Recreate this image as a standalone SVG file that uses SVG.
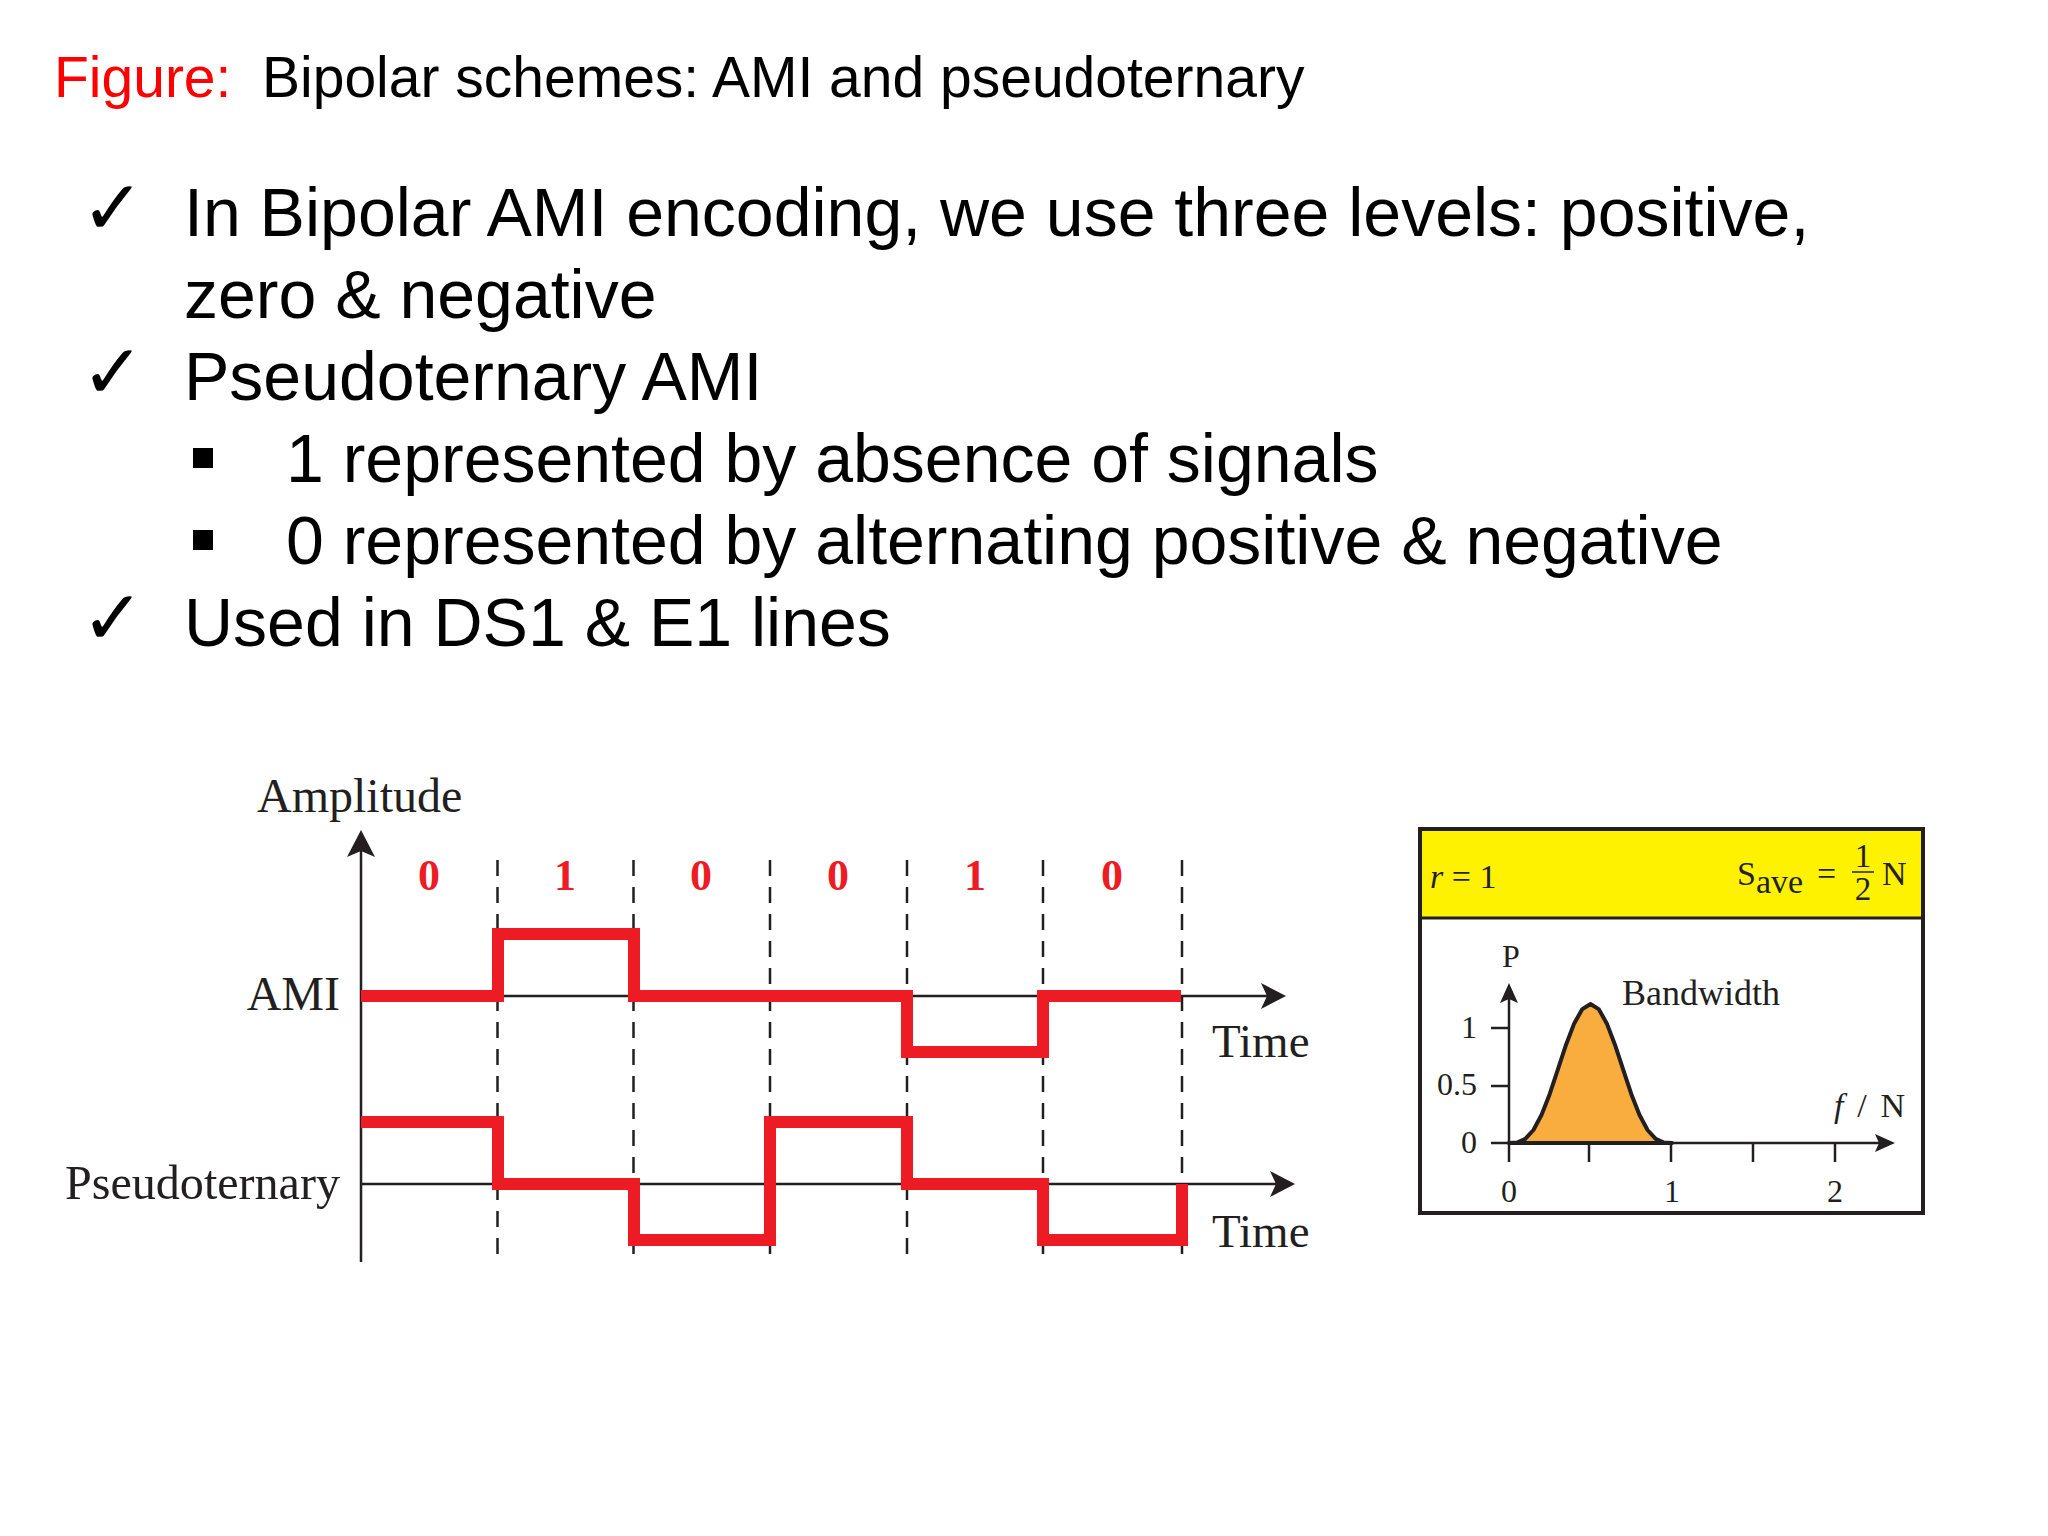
<svg xmlns="http://www.w3.org/2000/svg" width="2048" height="1536" viewBox="0 0 2048 1536">
<style>
.sans{font-family:"Liberation Sans",Arial,sans-serif;fill:#000}
.serif{font-family:"Liberation Serif","Times New Roman",serif;fill:#231F20}
.chk{font-family:"DejaVu Sans",sans-serif;font-size:76px;font-weight:bold;fill:#000}
.bit{font-family:"Liberation Serif","Times New Roman",serif;font-weight:bold;font-size:44px;fill:#ED1C24;text-anchor:middle}
.axis{stroke:#231F20;stroke-width:2.5;fill:none}
.dash{stroke:#231F20;stroke-width:2.5;stroke-dasharray:16 11;fill:none}
.wave{stroke:#ED1C24;stroke-width:12;fill:none;stroke-linejoin:miter;stroke-linecap:butt}
.head{fill:#231F20}
</style>
<rect width="2048" height="1536" fill="#FFFFFF"/>

<g id="title">
<text x="54" y="97" class="sans" font-size="57" style="fill:#FF0000">Figure:</text>
<text x="262" y="97" class="sans" font-size="57">Bipolar schemes: AMI and pseudoternary</text>
</g>

<g id="bullets">
<text x="81" y="234" class="chk">✓</text>
<text x="184" y="236" class="sans" font-size="68">In Bipolar AMI encoding, we use three levels: positive,</text>
<text x="184" y="318" class="sans" font-size="68">zero &amp; negative</text>
<text x="81" y="398" class="chk">✓</text>
<text x="184" y="400" class="sans" font-size="68">Pseudoternary AMI</text>
<rect x="193" y="448" width="20" height="20" fill="#000"/>
<text x="286" y="482" class="sans" font-size="68">1 represented by absence of signals</text>
<rect x="193" y="530" width="20" height="20" fill="#000"/>
<text x="286" y="564" class="sans" font-size="68">0 represented by alternating positive &amp; negative</text>
<text x="81" y="644" class="chk">✓</text>
<text x="184" y="646" class="sans" font-size="68">Used in DS1 &amp; E1 lines</text>
</g>

<g id="waveform-diagram">
<g id="labels">
<text x="257" y="812" class="serif" font-size="48">Amplitude</text>
<text x="340" y="1010" class="serif" font-size="48" text-anchor="end">AMI</text>
<text x="65" y="1199" class="serif" font-size="48" textLength="275" lengthAdjust="spacingAndGlyphs">Pseudoternary</text>
<text x="1212" y="1057" class="serif" font-size="47">Time</text>
<text x="1212" y="1247" class="serif" font-size="47">Time</text>
</g>
<g id="bits">
<text x="429" y="890" class="bit">0</text>
<text x="565" y="890" class="bit">1</text>
<text x="701" y="890" class="bit">0</text>
<text x="838" y="890" class="bit">0</text>
<text x="975" y="890" class="bit">1</text>
<text x="1112" y="890" class="bit">0</text>
</g>
<g id="grid">
<line class="dash" x1="497.5" y1="860" x2="497.5" y2="1262"/>
<line class="dash" x1="633.5" y1="860" x2="633.5" y2="1262"/>
<line class="dash" x1="770" y1="860" x2="770" y2="1262"/>
<line class="dash" x1="907" y1="860" x2="907" y2="1262"/>
<line class="dash" x1="1043" y1="860" x2="1043" y2="1262"/>
<line class="dash" x1="1182" y1="860" x2="1182" y2="1262"/>
</g>
<g id="axes">
<line class="axis" x1="361" y1="1262" x2="361" y2="848"/>
<path class="head" d="M361,830 L347,857 L361,851 L375,857 Z"/>
<line class="axis" x1="361" y1="996" x2="1268" y2="996"/>
<path class="head" d="M1286,996 L1261,983 L1267,996 L1261,1009 Z"/>
<line class="axis" x1="361" y1="1184" x2="1277" y2="1184"/>
<path class="head" d="M1295,1184 L1270,1171 L1276,1184 L1270,1197 Z"/>
</g>
<g id="signals">
<path id="ami" class="wave" d="M361,996 H498 V934 H634 V996 H907 V1052 H1043 V996 H1181"/>
<path id="pseudoternary" class="wave" d="M361,1122 H498 V1184 H634 V1240 H770 V1122 H907 V1184 H1043 V1240 H1182 V1184"/>
</g>
</g>

<g id="spectrum-box">
<rect x="1420" y="829" width="503" height="89" fill="#FFF200"/>
<rect x="1420" y="829" width="503" height="384" fill="none" stroke="#231F20" stroke-width="4"/>
<line x1="1420" y1="918" x2="1923" y2="918" stroke="#231F20" stroke-width="3"/>
<text x="1430" y="888" class="serif" font-size="34"><tspan font-style="italic">r</tspan> = 1</text>
<text x="1737" y="885" class="serif" font-size="34">S<tspan dy="8">ave</tspan></text>
<text x="1817" y="885" class="serif" font-size="34">=</text>
<text x="1863" y="867" class="serif" font-size="33" text-anchor="middle">1</text>
<line x1="1852" y1="872" x2="1874" y2="872" stroke="#231F20" stroke-width="1.5"/>
<text x="1863" y="900" class="serif" font-size="33" text-anchor="middle">2</text>
<text x="1882" y="885" class="serif" font-size="34">N</text>

<path d="M1509,1143 L1517.15,1142.5 L1525.3,1138.9 L1533.45,1130 L1541.6,1114.8 L1549.75,1093.9 L1557.9,1069.4 L1566.05,1044.7 L1574.2,1023.4 L1582.35,1009.1 L1590.5,1004 L1598.65,1009.1 L1606.8,1023.4 L1614.95,1044.7 L1623.1,1069.4 L1631.25,1093.9 L1639.4,1114.8 L1647.55,1130 L1655.7,1138.9 L1663.85,1142.5 L1672,1143 Z" fill="#F9AD3F" stroke="#231F20" stroke-width="4" stroke-linejoin="round"/>

<line class="axis" x1="1509" y1="1162" x2="1509" y2="998"/>
<path class="head" d="M1509,983 L1500,1003 L1509,999 L1518,1003 Z"/>
<line class="axis" x1="1491" y1="1143" x2="1880" y2="1143"/>
<path class="head" d="M1895,1143 L1875,1134 L1879,1143 L1875,1152 Z"/>
<g class="axis">
<line x1="1589" y1="1143" x2="1589" y2="1162"/>
<line x1="1671" y1="1143" x2="1671" y2="1162"/>
<line x1="1753" y1="1143" x2="1753" y2="1162"/>
<line x1="1835" y1="1143" x2="1835" y2="1162"/>
<line x1="1491" y1="1028" x2="1509" y2="1028"/>
<line x1="1491" y1="1086" x2="1509" y2="1086"/>
</g>
<text x="1511" y="967" class="serif" font-size="32" text-anchor="middle">P</text>
<text x="1622" y="1005" class="serif" font-size="36">Bandwidth</text>
<text x="1477" y="1038" class="serif" font-size="32" text-anchor="end">1</text>
<text x="1477" y="1095" class="serif" font-size="32" text-anchor="end">0.5</text>
<text x="1477" y="1153" class="serif" font-size="32" text-anchor="end">0</text>
<text x="1509" y="1202" class="serif" font-size="32" text-anchor="middle">0</text>
<text x="1672" y="1202" class="serif" font-size="32" text-anchor="middle">1</text>
<text x="1835" y="1202" class="serif" font-size="32" text-anchor="middle">2</text>
<text x="1834" y="1117" class="serif" font-size="34" textLength="71"><tspan font-style="italic">f</tspan> / N</text>
</g>
</svg>
